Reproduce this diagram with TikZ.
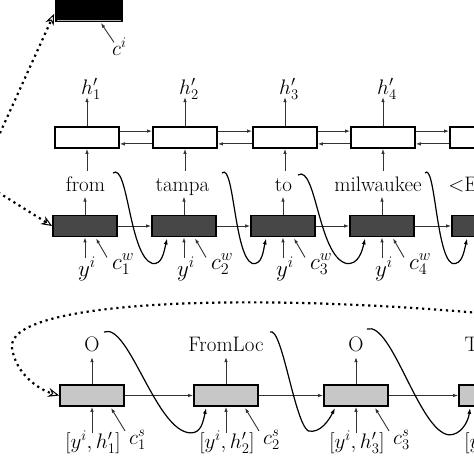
\RequirePackage{fix-cm}
\documentclass[tikz,border=0pt]{standalone}
\usetikzlibrary{arrows.meta,calc}
\begin{document}
\begin{tikzpicture}[x=1pt,y=-1pt,
  every node/.style={font=\fontsize{21}{25}\selectfont},
  box/.style={draw=black, line width=1.8pt, minimum width=64pt, minimum height=21pt, inner sep=0pt},
  wbox/.style={box, fill=white},
  dbox/.style={box, fill=black!72},
  gbox/.style={box, fill=black!22},
  lab/.style={inner sep=0pt, anchor=base},
  labw/.style={inner sep=0pt, anchor=base west},
  big/.style={font=\fontsize{23}{27}\selectfont},
  arr/.style={draw=black!80, line width=0.9pt, -{Latex[length=5pt,width=3.5pt]}},
  curvy/.style={draw=black, line width=1.2pt, -{Latex[length=6pt,width=4pt]}},
  dots/.style={draw=black, line width=2.2pt, dash pattern=on 2.2pt off 3.8pt,
    -{Stealth[length=11pt,width=9pt,open,line width=1pt]}}]
\useasboundingbox (0,0) rectangle (474,474);
\clip (0,0) rectangle (474,474);

% ---------- top black box ----------
\node[box, fill=black, minimum width=66pt, minimum height=30pt] (ci) at (89,6) {};
\draw[gray!60, line width=0.8pt] ($(ci.south west)+(2,-2)$) -- ($(ci.south east)+(-2,-2)$);
\node[labw] (cil) at (112,55) {$c^i$};
\draw[arr] ($(cil.west)+(2,-4)$) -- ($(ci.south east)+(-22,1)$);
\draw[dots] (-10,155) -- ($(ci.south west)+(-1,-8)$);

% ---------- top row (white boxes) ----------
\foreach \i/\x in {1/87,2/185,3/285,4/383,5/482}{
  \node[wbox] (t\i) at (\x,137.5) {};
  \draw[arr] (t\i.north) -- ++(0,-29);
  \node[lab] (h\i) at (\x+4,94) {$h'_{\i}$};
  \draw[arr] ($(t\i.south)+(0,22)$) -- (t\i.south);
}
\foreach \i/\j in {1/2,2/3,3/4,4/5}{
  \draw[arr] ($(t\i.north east)+(0,5)$) -- ($(t\j.north west)+(0,5)$);
  \draw[arr] ($(t\j.south west)+(0,-5)$) -- ($(t\i.south east)+(0,-5)$);
}

% ---------- words ----------
\node[lab] (w1) at (85.5,191) {from};
\node[lab] (w2) at (182.5,191) {tampa};
\node[lab] (w3) at (283.5,191) {to};
\node[lab] (w4) at (378,191) {milwaukee};
\node[lab] (w5) at (484,191) {$<$EOS$>$};

% ---------- middle row (dark boxes) ----------
\foreach \i/\x in {1/85,2/184,3/283,4/382,5/484}{
  \node[dbox] (m\i) at (\x,226) {};
  \draw[arr] (m\i.north) -- ++(0,-18);
  \draw[arr] ($(m\i.south)+(0,21)$) -- (m\i.south);
  \node[lab,big] (y\i) at (\x+2,276) {$y^i$};
  \node[labw,big] (cw\i) at (\x+27,269) {$c^w_{\i}$};
  \draw[arr] ($(m\i.south)+(22,20)$) -- ($(m\i.south)+(11,1)$);
}
\foreach \i/\j in {1/2,2/3,3/4,4/5}{
  \draw[arr] (m\i.east) -- (m\j.west);
}
\draw[dots] (-12,186) -- (m1.west);

\coordinate (s1) at (113,173);
\coordinate (s2) at (222,173);
\coordinate (s3) at (298,175);
\coordinate (s4) at (425,173);
\draw[curvy] (s1) .. controls +(15,-11) and +(-23,-8) .. ($(m2.south west)+(1,26)$)
  .. controls +(10,2) and +(-3,13) .. ($(m2.south west)+(16,1)$);
\draw[curvy] (s2) .. controls +(12,-11) and +(-18,-8) .. ($(m3.south west)+(2,26)$)
  .. controls +(10,2) and +(-3,13) .. ($(m3.south west)+(16,1)$);
\draw[curvy] (s3) .. controls +(18,-11) and +(-28,-8) .. ($(m4.south west)+(-3,26)$)
  .. controls +(12,2) and +(-3,13) .. ($(m4.south west)+(16,1)$);
\draw[curvy] (s4) .. controls +(10,-11) and +(-16,-8) .. ($(m5.south west)+(1,26)$)
  .. controls +(10,2) and +(-3,13) .. ($(m5.south west)+(16,1)$);

% ---------- bottom row (light boxes) ----------
\foreach \i/\x/\t in {1/92/O,2/226/FromLoc,3/356/O,4/491/ToLoc}{
  \node[gbox] (b\i) at (\x,395.5) {};
  \draw[arr] (b\i.north) -- ++(0,-27);
  \node[lab] (o\i) at (\x,351) {\t};
  \draw[arr] ($(b\i.south)+(0,26)$) -- (b\i.south);
  \node[lab] (in\i) at (\x+1,448) {$[y^i,h'_{\i}]$};
  \node[labw] (cs\i) at (\x+37,444) {$c^s_{\i}$};
  \draw[arr] ($(b\i.south)+(33,24)$) -- ($(b\i.south)+(19,1)$);
}
\foreach \i/\j in {1/2,2/3,3/4}{
  \draw[arr] (b\i.east) -- (b\j.west);
}
\draw[dots] (490,314) .. controls (250,292) and (5,300) .. (12,348)
  .. controls (16,375) and (40,390) .. (b1.west);

\coordinate (u1) at (104,332);
\coordinate (u2) at (270,332);
\coordinate (u3) at (367,329);
\draw[curvy] (u1) .. controls +(25,-10) and +(-35,0) .. ($(b2.south west)+(-2,26)$)
  .. controls +(10,0) and +(-3,14) .. ($(b2.south west)+(13,1)$);
\draw[curvy] (u2) .. controls +(12,-6) and +(-14,-10) .. ($(b3.south west)+(-15,24)$)
  .. controls +(12,3) and +(-6,12) .. ($(b3.south west)+(12,1)$);
\draw[curvy] (u3) .. controls +(25,-8) and +(-30,-3) .. ($(b4.south west)+(-9,28)$)
  .. controls +(12,0) and +(-2,14) .. ($(b4.south west)+(12,1)$);
\end{tikzpicture}
\end{document}
